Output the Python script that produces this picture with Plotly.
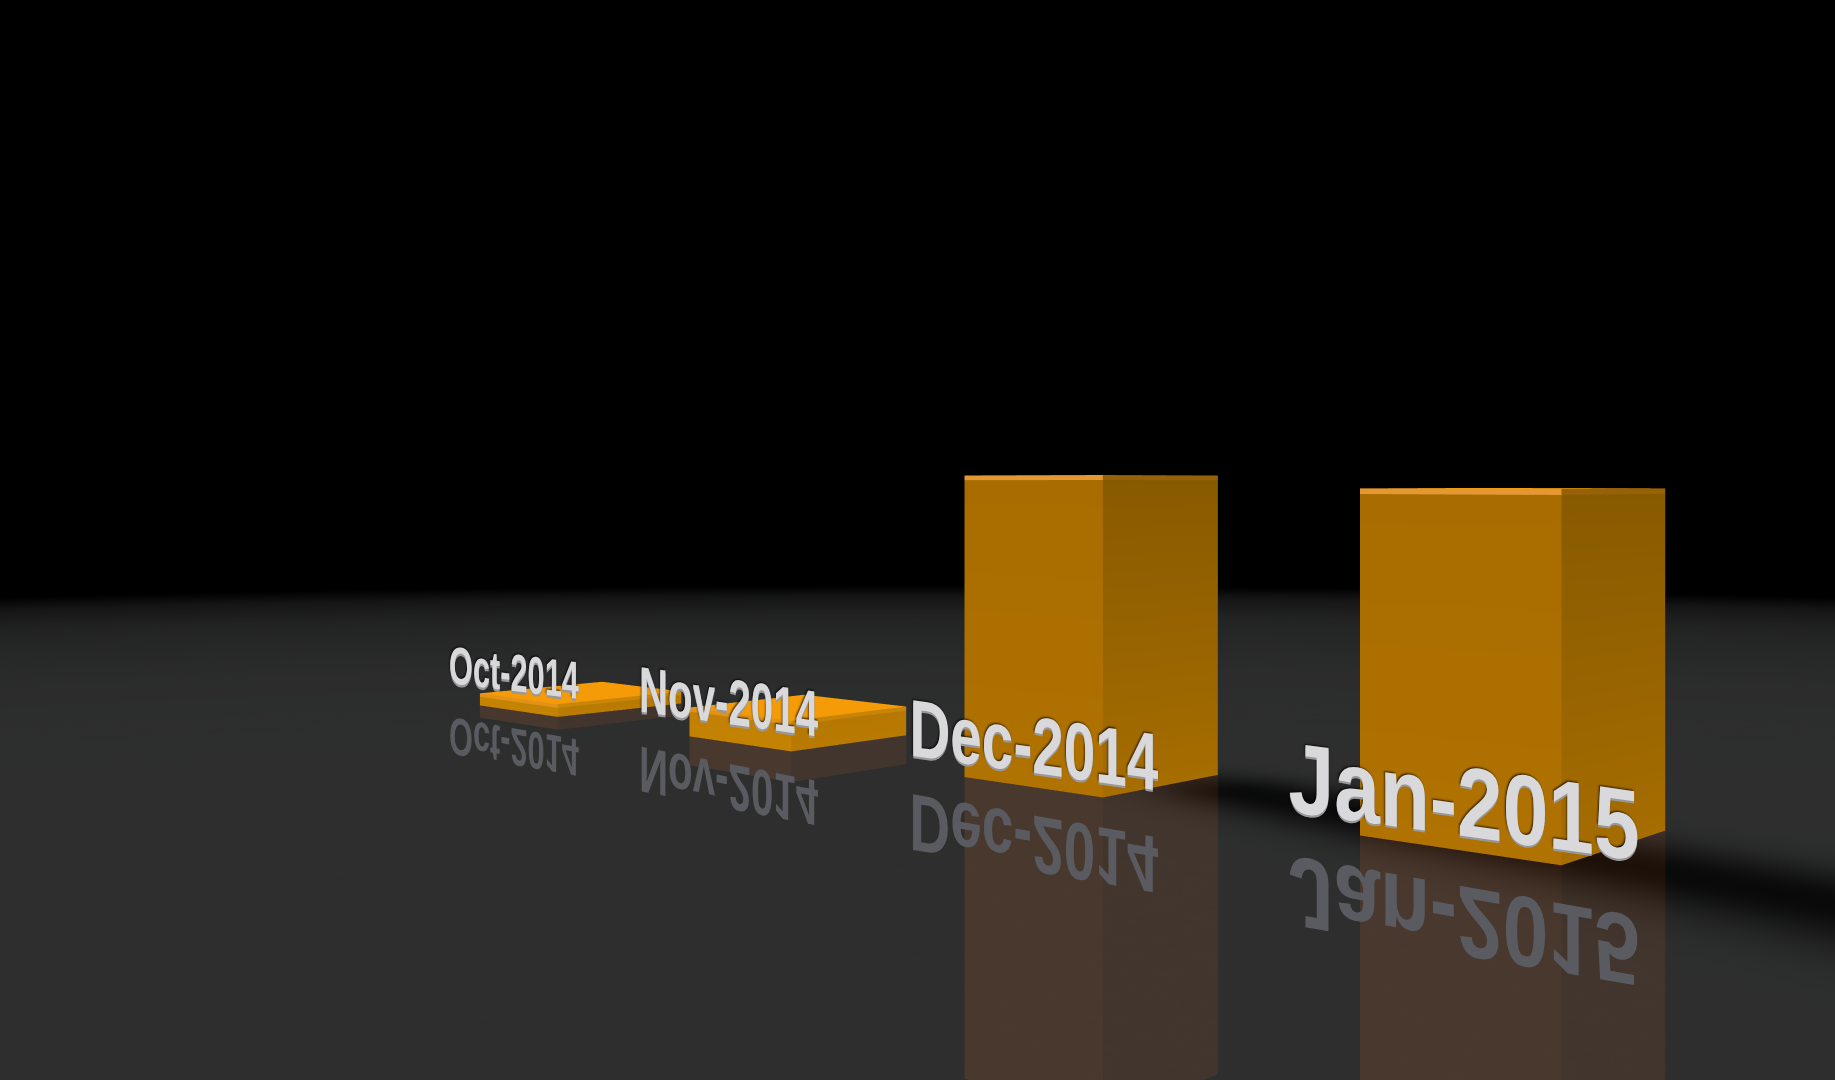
import numpy as np
import plotly.graph_objects as go

# chart data (no axis in the picture, heights are relative)
labels = ["Oct-2014", "Nov-2014", "Dec-2014", "Jan-2015"]
values = [5.5, 11.5, 103.4, 99.3]

bar_back = [0.34, 0.28, 0.30, 0.34]
bar_nudge = [0, -0.01, -0.03, 0]
label_size = [53, 65, 81, 100]
label_squeeze = [0.58, 0.62, 0.70, 0.82]
label_slope = [7, 8, 8, 8]
mirror_slope = [10, 11, 10, 10]
label_shift = [10, 0, 7, 0]
label_lift = [6, 6, 0, 0]

# scene set up, one world unit = 100 value units
spacing = 1.5
half_x = 0.3
half_y = 0.34
bevel = 1.6
view = np.array([-0.692, 0.722])
eye_xy = np.array([6.978, -5.068])
eye_z = 101
floor_r = 18.3
box_center = np.array([7.0, -5.0])
k = 0.05
canvas_w, canvas_h = 2625, 1545
page_left, page_top = -395, -290


def mix(a, b, t):
    return [a[n] + (b[n] - a[n]) * t for n in range(3)]


def rgb(c):
    return "rgb(%d,%d,%d)" % tuple(round(v) for v in c)


def mesh(quads, name):
    xs, ys, zs, cols, i, j, l = [], [], [], [], [], [], []
    for q in quads:
        n = len(xs)
        for px, py, pz, c in q:
            xs.append(px)
            ys.append(py)
            zs.append(pz)
            cols.append(rgb(c))
        i += [n, n]
        j += [n + 1, n + 2]
        l += [n + 2, n + 3]
    return go.Mesh3d(x=xs, y=ys, z=zs, i=i, j=j, k=l, vertexcolor=cols, name=name,
                     flatshading=True, hoverinfo="name", showscale=False,
                     lighting=dict(ambient=1, diffuse=0, specular=0, roughness=1, fresnel=0))


def bar_quads(cx, v, back):
    x0, x1 = cx - half_x, cx + half_x
    y0, y1 = -half_y, back
    t = min(v / 100, 1)
    front_b = mix((199, 132, 3), (176, 114, 0), t)
    front_t = mix((199, 132, 3), (168, 108, 0), t)
    right_b = mix((187, 124, 2), (166, 109, 0), t)
    right_t = mix((187, 124, 2), (136, 90, 0), t)
    top_c = (245, 155, 8)
    edge_f = mix((226, 146, 20), (228, 152, 50), t)
    edge_r = mix((205, 136, 6), (150, 98, 8), t)
    b = v - bevel
    return [
        [(x0, y0, 0, front_b), (x1, y0, 0, front_b), (x1, y0, b, front_t), (x0, y0, b, front_t)],
        [(x0, y0, b, edge_f), (x1, y0, b, edge_f), (x1, y0, v, edge_f), (x0, y0, v, edge_f)],
        [(x1, y0, 0, right_b), (x1, y1, 0, right_b), (x1, y1, b, right_t), (x1, y0, b, right_t)],
        [(x1, y0, b, edge_r), (x1, y1, b, edge_r), (x1, y1, v, edge_r), (x1, y0, v, edge_r)],
        [(x0, y0, v, top_c), (x1, y0, v, top_c), (x1, y1, v, top_c), (x0, y1, v, top_c)],
    ]


def mirror_quads(cx, v, back):
    x0, x1 = cx - half_x, cx + half_x
    y0, y1 = -half_y, back
    front, right = (54, 20, 0), (40, 14, 0)
    return [
        [(x0, y0, 0, front), (x1, y0, 0, front), (x1, y0, -v, front), (x0, y0, -v, front)],
        [(x1, y0, 0, right), (x1, y1, 0, right), (x1, y1, -v, right), (x1, y0, -v, right)],
    ]


def floor_trace():
    rr = np.geomspace(2.4, floor_r, 230)
    aa = np.radians(np.linspace(-36, 36, 140))
    base = np.arctan2(view[1], view[0])
    r2, a2 = np.meshgrid(rr, aa, indexing="ij")
    fx = eye_xy[0] + r2 * np.cos(base + a2)
    fy = eye_xy[1] + r2 * np.sin(base + a2)
    light = np.interp(r2, [0, 7, 10, 14, 16.5, floor_r], [1, 1, 0.95, 0.75, 0.45, 0])
    # soft shadow thrown along the row towards the camera
    mid = 0.1 - 0.195 * (fx - 3.3)
    width = 0.2 + 0.035 * np.clip(fx - 3.3, 0, None)
    fade = np.clip((fx - 3.0) / 0.5, 0, 1)
    light = light * (1 - 0.8 * np.exp(-0.5 * ((fy - mid) / width) ** 2) * fade)
    cols = [rgb((92 * s, 93 * s, 93 * s)) for s in light.ravel()]
    n, m = len(rr), len(aa)
    idx = np.arange(n * m).reshape(n, m)
    a, b, c, d = idx[:-1, :-1].ravel(), idx[1:, :-1].ravel(), idx[1:, 1:].ravel(), idx[:-1, 1:].ravel()
    return go.Mesh3d(x=fx.ravel(), y=fy.ravel(), z=np.zeros(n * m),
                     i=np.r_[a, a], j=np.r_[b, c], k=np.r_[c, d],
                     vertexcolor=cols, opacity=0.5, hoverinfo="skip", name="floor",
                     lighting=dict(ambient=1, diffuse=0, specular=0, roughness=1, fresnel=0))


fig = go.Figure()
positions = [n * spacing + bar_nudge[n] for n in range(len(values))]
for cx, v, back, name in zip(positions, values, bar_back, labels):
    fig.add_trace(mesh(mirror_quads(cx, v, back), name + " reflection"))
fig.add_trace(floor_trace())
for cx, v, back, name in zip(positions, values, bar_back, labels):
    fig.add_trace(mesh(bar_quads(cx, v, back), name))

notes = []
css = []
for n, name in enumerate(labels):
    common = dict(x=positions[n] + 0.09, y=-0.47, showarrow=False, xanchor="center", yanchor="middle",
                  text=name, xshift=label_shift[n], yshift=label_lift[n])
    notes.append(dict(z=16,
                      font=dict(family="Liberation Sans", size=label_size[n], weight=700, color="#d9d9db",
                                shadow="0 2px 0 #98989a, -1px -1px 2px rgba(0,0,0,0.7)"),
                      **common))
    notes.append(dict(z=-16,
                      font=dict(family="Liberation Sans", size=label_size[n], weight=700, color="#5a5b61"),
                      **common))
    # letters stand upright in the original, only the baseline runs away, so skew and do not rotate
    css.append('[data-index="%d"] text{transform-box:fill-box;transform-origin:center;transform:skewY(%ddeg) scaleX(%s)}'
               % (2 * n, label_slope[n], label_squeeze[n]))
    css.append('[data-index="%d"] text{transform-box:fill-box;transform-origin:center;transform:skewY(%ddeg) scale(%s,-1)}'
               % (2 * n + 1, mirror_slope[n], label_squeeze[n]))

x_range = [box_center[0] - 19, box_center[0] + 19]
y_range = [box_center[1] - 19, box_center[1] + 19]
z_range = [-150, 150]
kz = k / 100
hidden = dict(visible=False, showspikes=False)


def to_box(p, z):
    return dict(x=k * (p[0] - box_center[0]), y=k * (p[1] - box_center[1]), z=kz * z)


fig.update_layout(
    width=canvas_w, height=canvas_h, autosize=False,
    margin=dict(l=0, r=0, t=0, b=0),
    paper_bgcolor="black", showlegend=False,
    scene=dict(
        domain=dict(x=[0, 1], y=[0, 1]),
        bgcolor="black",
        xaxis=dict(range=x_range, **hidden),
        yaxis=dict(range=y_range, **hidden),
        zaxis=dict(range=z_range, **hidden),
        aspectmode="manual",
        aspectratio=dict(x=38 * k, y=38 * k, z=300 * kz),
        camera=dict(eye=to_box(eye_xy, eye_z), center=to_box(eye_xy + 5 * view, eye_z), up=dict(x=0, y=0, z=1)),
        annotations=notes,
    ),
)

# the canvas is bigger than the window to get the long lens of the original
post = """
document.documentElement.style.background='black';
document.body.style.cssText='margin:0;background:black;overflow:hidden';
var gd=document.getElementsByClassName('plotly-graph-div')[0];
gd.style.position='absolute';gd.style.left='%dpx';gd.style.top='%dpx';
var st=document.createElement('style');st.textContent=%r;document.head.appendChild(st);
""" % (page_left, page_top, "".join(css))

fig.write_html("out.html", post_script=post, config=dict(displayModeBar=False))
